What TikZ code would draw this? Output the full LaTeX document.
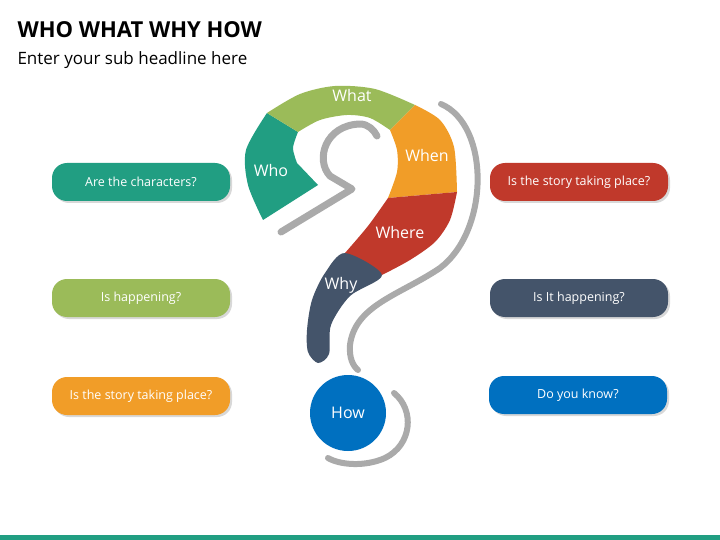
\documentclass[tikz,border=0pt]{standalone}
\usepackage{fontspec}
\setmainfont{Open Sans}
\usetikzlibrary{shadows}
\definecolor{cteal}{RGB}{33,158,130}
\definecolor{cgreen}{RGB}{155,187,89}
\definecolor{corange}{RGB}{241,157,40}
\definecolor{cred}{RGB}{192,57,43}
\definecolor{cslate}{RGB}{68,84,106}
\definecolor{cblue}{RGB}{0,112,192}
\definecolor{cgray}{RGB}{170,170,170}
\begin{document}
\begin{tikzpicture}[x=1pt,y=-1pt,
  pill/.style={rounded corners=15pt,minimum width=178pt,minimum height=38pt,text=white,font=\fontsize{12.5}{14}\selectfont,drop shadow={opacity=0.3,shadow xshift=2pt,shadow yshift=-2pt}},
  seg/.style={text=white,font=\fontsize{16}{18}\selectfont},
  swoosh/.style={cgray,line width=7pt,line cap=round,line join=round}]
\useasboundingbox (0,0) rectangle (720,540);
\fill[white] (0,0) rectangle (720,540);
\node[anchor=west,font=\bfseries\fontsize{22}{26}\selectfont] (title) at (14,30) {WHO WHAT WHY HOW};
\node[anchor=west,font=\fontsize{17}{20}\selectfont] (sub) at (14,60) {Enter your sub headline here};
\fill[cteal] (0,535) rectangle (720,540);
% swooshes
\draw[swoosh] (281,232) -- (352,189) -- (330,176) .. controls (315,160) and (325,125) .. (360,124) .. controls (368,124) and (374,130) .. (377,136);
\draw[swoosh,line width=6pt] (441,104) .. controls (490,125) and (490,230) .. (440,268) .. controls (400,295) and (355,305) .. (350,345) .. controls (349,358) and (353,366) .. (358,370);
\draw[swoosh,line width=6pt] (394,393) .. controls (415,410) and (412,445) .. (385,458) .. controls (365,467) and (340,465) .. (328,458);
% segments
\fill[cteal] (263,220) -- plot[smooth] coordinates {(263,220)(248,185)(246,150)(267,113)} -- (298,132) -- plot[smooth] coordinates {(298,132)(293,148)(297,163)} -- (318,185) -- cycle;
\fill[cgreen] (267,113) -- plot[smooth] coordinates {(267,113)(300,94)(335,86)(375,89)(415,105)} -- (390,130) -- plot[smooth] coordinates {(390,130)(370,118)(347,115)(320,120)(298,132)} -- cycle;
\fill[corange] (415,105) -- plot[smooth] coordinates {(415,105)(440,120)(454,147)(457,192)} -- (388,198) -- plot[smooth] coordinates {(388,198)(397,172)(397,150)(390,130)} -- cycle;
\fill[cred] (457,192) -- plot[smooth] coordinates {(457,192)(450,220)(435,242)(410,260)(382,275)} -- (345,253) -- plot[smooth] coordinates {(345,253)(368,226)(388,198)} -- cycle;
\fill[cslate] plot[smooth cycle] coordinates {(345,253)(325,273)(312,300)(307,330)(308,352)(318,363)(329,354)(331,325)(350,296)(382,275)};
\node[seg] (who) at (271,171) {Who};
\node[seg] (what) at (352,96) {What};
\node[seg] (when) at (427,156) {When};
\node[seg] (where) at (400,232) {Where};
\node[seg] (why) at (341,285) {Why};
\node[circle,fill=cblue,minimum size=76pt,seg] (how) at (348,413) {How};
% pills
\node[pill,fill=cteal] (p1) at (141,182) {Are the characters?};
\node[pill,fill=cgreen] (p2) at (141,298) {Is happening?};
\node[pill,fill=corange] (p3) at (141,396) {Is the story taking place?};
\node[pill,fill=cred] (p4) at (579,182) {Is the story taking place?};
\node[pill,fill=cslate] (p5) at (579,298) {Is It happening?};
\node[pill,fill=cblue] (p6) at (578,395) {Do you know?};
\end{tikzpicture}
\end{document}
